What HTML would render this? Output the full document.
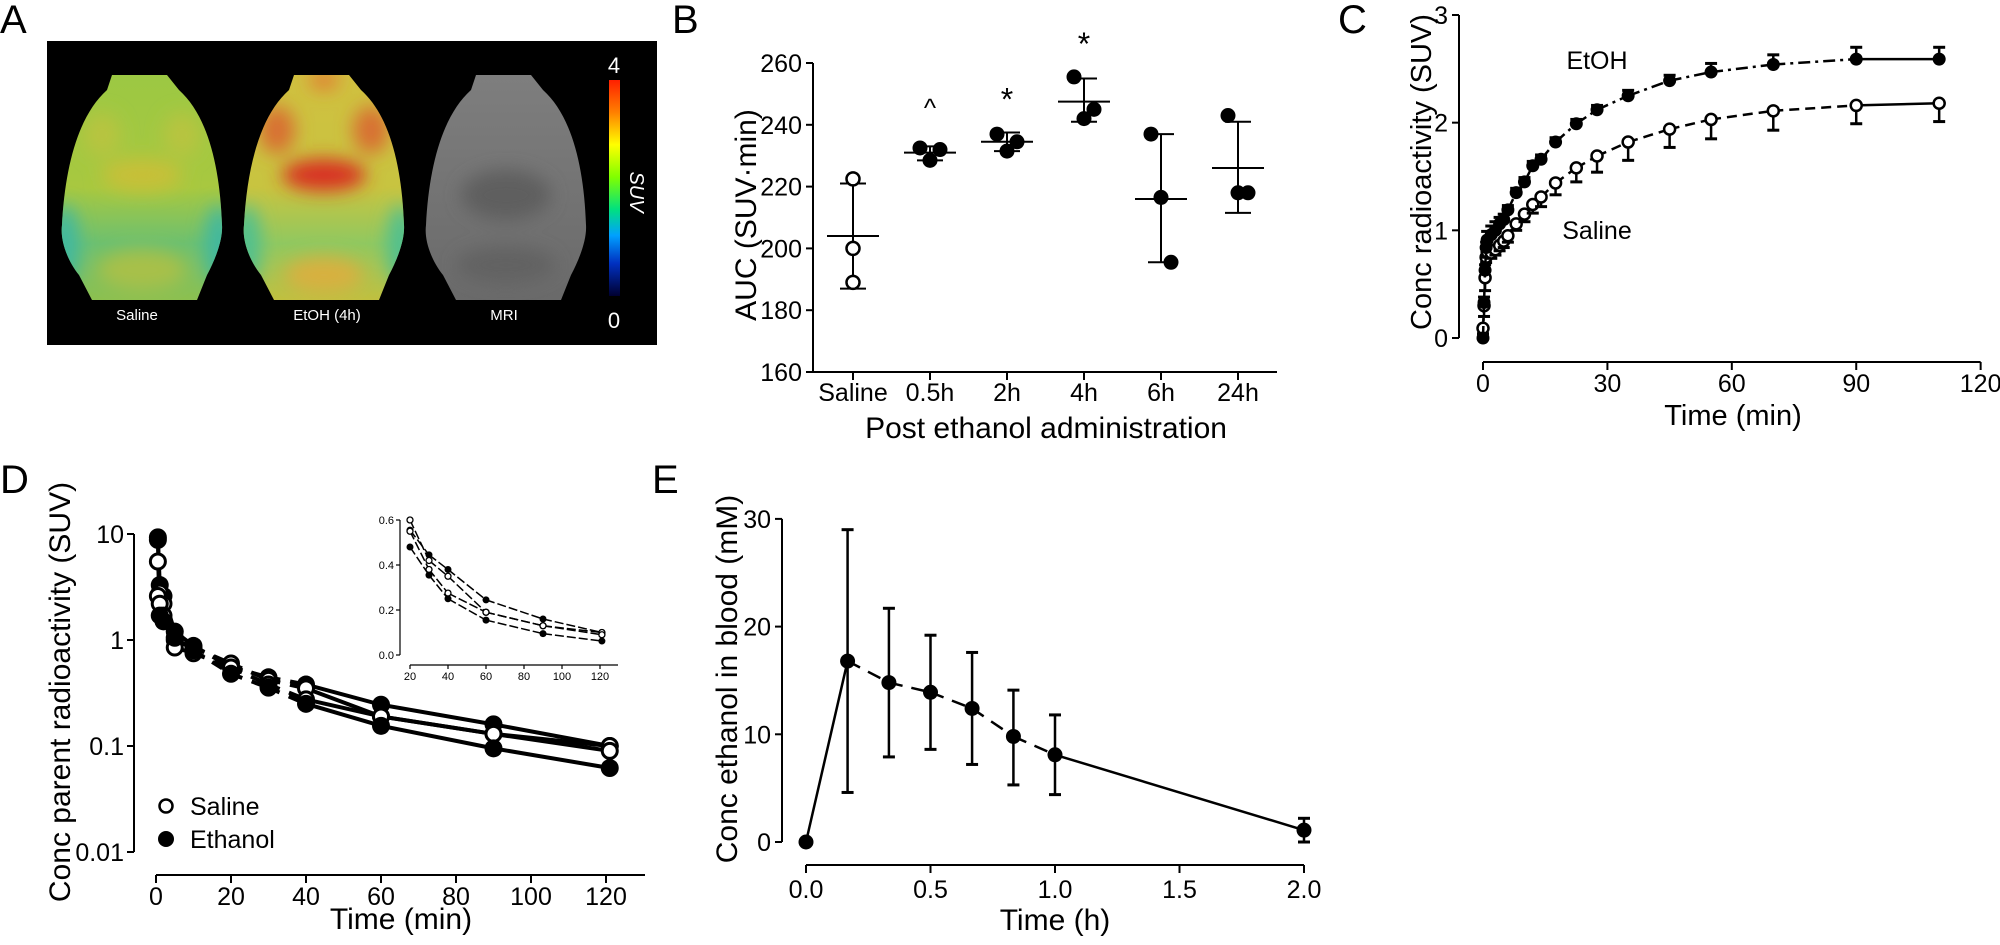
<!DOCTYPE html>
<html><head><meta charset="utf-8"><style>
html,body{margin:0;padding:0;background:#fff;}
svg{display:block;font-family:"Liberation Sans",Arial,sans-serif;}
</style></head><body>
<svg id="fig" width="2000" height="945" viewBox="0 0 2000 945" xmlns="http://www.w3.org/2000/svg">
<defs>
  <linearGradient id="cbar" x1="0" y1="0" x2="0" y2="1">
    <stop offset="0" stop-color="#ff2000"/><stop offset="0.15" stop-color="#ff8000"/>
    <stop offset="0.3" stop-color="#ffff00"/><stop offset="0.45" stop-color="#80ff00"/>
    <stop offset="0.6" stop-color="#00e080"/><stop offset="0.72" stop-color="#00a0ff"/>
    <stop offset="0.85" stop-color="#0030c0"/><stop offset="1" stop-color="#000030"/>
  </linearGradient>
  <linearGradient id="salG" x1="0" y1="0" x2="0" y2="1">
    <stop offset="0" stop-color="#9cc843"/><stop offset="0.5" stop-color="#a8c840"/>
    <stop offset="0.75" stop-color="#6cc070"/><stop offset="1" stop-color="#8cc050"/>
  </linearGradient>
  <linearGradient id="etG" x1="0" y1="0" x2="0" y2="1">
    <stop offset="0" stop-color="#d0c040"/><stop offset="0.5" stop-color="#c8c440"/>
    <stop offset="0.75" stop-color="#90c860"/><stop offset="1" stop-color="#c0c040"/>
  </linearGradient>
  <linearGradient id="mriG" x1="0" y1="0" x2="0" y2="1">
    <stop offset="0" stop-color="#7e7e7e"/><stop offset="1" stop-color="#6a6a6a"/>
  </linearGradient>
  <filter id="blur" x="-50%" y="-50%" width="200%" height="200%"><feGaussianBlur stdDeviation="9"/></filter>
  <path id="brainShape" d="M55 0 H110 L122 15 C150 40 163 90 165 150 C166 165 158 185 150 200 L140 225 H35 L22 200 C10 185 3 165 5 150 C8 90 22 40 50 15 Z"/>
  <clipPath id="bclip"><use href="#brainShape"/></clipPath>
</defs>

<!-- Panel A -->
<text x="0" y="33" font-size="40">A</text>
<g>
  <rect x="47" y="41" width="610" height="304" fill="#000"/>
  <g transform="translate(57,75)">
    <use href="#brainShape" fill="url(#salG)"/>
    <g clip-path="url(#bclip)" filter="url(#blur)">
      <ellipse cx="85" cy="100" rx="40" ry="16" fill="#c8c038"/>
      <ellipse cx="45" cy="60" rx="18" ry="22" fill="#b8c440"/>
      <ellipse cx="125" cy="60" rx="18" ry="22" fill="#b8c440"/>
      <ellipse cx="8" cy="170" rx="14" ry="40" fill="#40b8a0"/>
      <ellipse cx="162" cy="170" rx="14" ry="40" fill="#40b8a0"/>
      <ellipse cx="85" cy="195" rx="45" ry="20" fill="#a8c048"/>
    </g>
  </g>
  <g transform="translate(239,75)">
    <use href="#brainShape" fill="url(#etG)"/>
    <g clip-path="url(#bclip)" filter="url(#blur)">
      <ellipse cx="85" cy="100" rx="42" ry="16" fill="#d83020"/>
      <ellipse cx="38" cy="55" rx="18" ry="24" fill="#d87030"/>
      <ellipse cx="132" cy="55" rx="18" ry="24" fill="#d87030"/>
      <ellipse cx="85" cy="5" rx="15" ry="10" fill="#e08030"/>
      <ellipse cx="8" cy="170" rx="14" ry="40" fill="#50c090"/>
      <ellipse cx="162" cy="170" rx="14" ry="40" fill="#50c090"/>
      <ellipse cx="85" cy="200" rx="40" ry="18" fill="#d8b040"/>
    </g>
  </g>
  <g transform="translate(421,75)">
    <use href="#brainShape" fill="url(#mriG)"/>
    <g clip-path="url(#bclip)" filter="url(#blur)">
      <ellipse cx="85" cy="120" rx="45" ry="25" fill="#5e5e5e"/>
      <ellipse cx="85" cy="190" rx="50" ry="18" fill="#626262"/>
    </g>
  </g>
  <text x="137" y="320" font-size="15" fill="#fff" text-anchor="middle">Saline</text>
  <text x="327" y="320" font-size="15" fill="#fff" text-anchor="middle">EtOH (4h)</text>
  <text x="504" y="320" font-size="15" fill="#fff" text-anchor="middle">MRI</text>
  <rect x="609" y="80" width="11" height="216" fill="url(#cbar)"/>
  <text x="614" y="73" font-size="22" fill="#fff" text-anchor="middle">4</text>
  <text x="614" y="328" font-size="22" fill="#fff" text-anchor="middle">0</text>
  <text x="0" y="0" font-size="20" font-style="italic" fill="#fff" text-anchor="middle" transform="translate(630,192) rotate(90)">SUV</text>
</g>

<text x="672" y="33" font-size="40">B</text>
<text x="1338" y="33" font-size="40">C</text>
<text x="0" y="493" font-size="40">D</text>
<text x="652" y="493" font-size="40">E</text>

<g id="gB"></g>
<g id="gC"></g>
<g id="gD"></g>
<g id="gE"></g>
</svg>

<script>
// ---------- Panel B data ----------
const bCategories = ["Saline","0.5h","2h","4h","6h","24h"];
const bPoints = [[222.5,200,189],[232.5,228.5,232],[237,231.5,234.5],[255.5,242,245],[237,216.5,195.5],[243,218,218]];
const bMeans = [204,231,234.5,247.5,216,226];
const bErrHi = [221,233,237.5,255,237,241];
const bErrLo = [187,228.5,231.5,241,195.5,211.5];
const bMarks = ["","^","*","*","",""];
const bTicks = [160,180,200,220,240,260];

// ---------- Panel C data ----------
const cTimes = [0,0.25,0.5,0.75,1,2,3,4,5,6,8,10,12,14,17.5,22.5,27.5,35,45,55,70,90,110];
const cEtoh = [0,0.33,0.63,0.84,0.91,0.96,1.0,1.06,1.10,1.19,1.35,1.45,1.60,1.66,1.82,1.99,2.12,2.25,2.39,2.47,2.54,2.59,2.59];
const cEtohSD = [0,0.05,0.05,0.05,0.08,0.08,0.08,0.06,0.05,0.04,0.04,0.04,0.04,0.04,0.04,0.04,0.04,0.05,0.05,0.08,0.09,0.11,0.11];
const cSaline = [0.09,0.3,0.56,0.75,0.80,0.79,0.82,0.86,0.90,0.95,1.06,1.15,1.24,1.31,1.44,1.58,1.69,1.82,1.94,2.03,2.11,2.16,2.18];
const cSalineSD = [0.05,0.1,0.12,0.05,0.05,0.05,0.05,0.05,0.06,0.06,0.06,0.07,0.08,0.09,0.11,0.13,0.15,0.17,0.17,0.18,0.18,0.17,0.17];
const cXTicks = [0,30,60,90,120];
const cYTicks = [0,1,2,3];

// ---------- Panel D data ----------
const dTimes = [0.5,1,2,5,10,20,30,40,60,90,121];
const dEthHi = [9.3,3.3,2.6,1.2,0.88,0.555,0.445,0.38,0.245,0.16,0.10];
const dSalHi = [5.5,2.8,2.2,1.0,0.85,0.60,0.42,0.35,0.19,0.13,0.10];
const dSalLo = [2.6,2.2,1.7,0.85,0.75,0.55,0.38,0.275,0.19,0.13,0.09];
const dEthLo = [8.8,1.7,1.5,1.05,0.80,0.48,0.355,0.25,0.155,0.095,0.062];
const dYTicks = [10,1,0.1,0.01];
const dYLabels = ["10","1","0.1","0.01"];
const dXTicks = [0,20,40,60,80,100,120];
const insetTimes = [20,30,40,60,90,121];
const insetXTicks = [20,40,60,80,100,120];
const insetYTicks = [0,0.2,0.4,0.6];
const insetYLabels = ["0.0","0.2","0.4","0.6"];

// ---------- Panel E data ----------
const eTimes = [0,0.167,0.333,0.5,0.667,0.833,1,2];
const eMeans = [0,16.8,14.8,13.9,12.4,9.8,8.1,1.1];
const eHi = [0,29,21.7,19.2,17.6,14.1,11.8,2.2];
const eLo = [0,4.6,7.9,8.6,7.2,5.3,4.4,0];
const eXTicks = [0,0.5,1,1.5,2];
const eXLabels = ["0.0","0.5","1.0","1.5","2.0"];
const eYTicks = [0,10,20,30];

const NS = "http://www.w3.org/2000/svg";
function mk(parent, tag, attrs, text){
  const el = document.createElementNS(NS, tag);
  for (const k in attrs) el.setAttribute(k, attrs[k]);
  if (text !== undefined) el.textContent = text;
  parent.appendChild(el);
  return el;
}
function line(p,x1,y1,x2,y2,w,dash){
  const l = mk(p,"line",{x1:x1,y1:y1,x2:x2,y2:y2,stroke:"#000","stroke-width":w||2});
  if (dash) l.setAttribute("stroke-dasharray",dash);
  return l;
}

// ================= B =================
(function(){
  const g = document.getElementById("gB");
  const xB = i => 853 + 77*i;
  const yB = v => 372 - (v-160)*3.09;
  const ax = line(g,813,yB(260),813,372,2);
  
  
  const axx = line(g,813,372,1277,372,2);
  
  
  bTicks.forEach(t=>{
    line(g,806,yB(t),813,yB(t),2);
    const tx = mk(g,"text",{x:802,y:yB(t)+9,"font-size":25,"text-anchor":"end"},String(t));
    
    
  });
  bCategories.forEach((c,i)=>{
    line(g,xB(i),372,xB(i),380,2);
    const tx = mk(g,"text",{x:xB(i),y:401,"font-size":25,"text-anchor":"middle"},c);
    
    
    line(g,xB(i),yB(bErrHi[i]),xB(i),yB(bErrLo[i]),2);
    line(g,xB(i)-13,yB(bErrHi[i]),xB(i)+13,yB(bErrHi[i]),2);
    line(g,xB(i)-13,yB(bErrLo[i]),xB(i)+13,yB(bErrLo[i]),2);
    const m = line(g,xB(i)-26,yB(bMeans[i]),xB(i)+26,yB(bMeans[i]),2);
    
    
    const offs = i===0 ? [0,0,0] : [-10,0,10];
    bPoints[i].forEach((v,j)=>{
      const open = i===0;
      const c2 = mk(g,"circle",{cx:xB(i)+offs[j],cy:yB(v),r:open?6.5:7.5,fill:open?"#fff":"#000",stroke:"#000","stroke-width":open?2.5:0});
      
      
    });
    if (bMarks[i]) {
      const top = Math.max(...bPoints[i], bErrHi[i]);
      const s = mk(g,"text",{x:xB(i),y:yB(top)-(bMarks[i]==="^"?30:22),"font-size":bMarks[i]==="^"?26:32,"text-anchor":"middle"},bMarks[i]);
      
      
    }
  });
  const yt = mk(g,"text",{x:0,y:0,"font-size":30,"text-anchor":"middle",transform:"translate(756,215) rotate(-90)"},"AUC (SUV·min)");
  
  
  const xt = mk(g,"text",{x:1046,y:438,"font-size":30,"text-anchor":"middle"},"Post ethanol administration");
  
  
})();

// ================= C =================
(function(){
  const g = document.getElementById("gC");
  const xC = t => 1483 + t*4.147;
  const yC = v => 338 - v*107.67;
  const ay = line(g,1459,yC(3),1459,yC(0),2);
  
  
  const axx = line(g,1483,362,xC(120),362,2);
  
  
  cYTicks.forEach(t=>{
    line(g,1452,yC(t),1459,yC(t),2);
    const tx = mk(g,"text",{x:1448,y:yC(t)+9,"font-size":25,"text-anchor":"end"},String(t));
    
    
  });
  cXTicks.forEach(t=>{
    line(g,xC(t),362,xC(t),370,2);
    const tx = mk(g,"text",{x:xC(t),y:392,"font-size":25,"text-anchor":"middle"},String(t));
    
    
  });
  function series(vals, sds, open, name){
    for (let i=1;i<cTimes.length;i++){
      const last = i===cTimes.length-1;
      const l = line(g,xC(cTimes[i-1]),yC(vals[i-1]),xC(cTimes[i]),yC(vals[i]),2.5,last?null:(open?"10,6":"12,5,3,5"));
      
      
    }
    cTimes.forEach((t,i)=>{
      const dir = open ? 1 : -1;
      const ye = yC(vals[i] + dir*-1*sds[i]*-1*(open?-1:1));
      const yEnd = open ? yC(vals[i]-sds[i]) : yC(vals[i]+sds[i]);
      line(g,xC(t),yC(vals[i]),xC(t),yEnd,2.5);
      line(g,xC(t)-6,yEnd,xC(t)+6,yEnd,3);
      const c = mk(g,"circle",{cx:xC(t),cy:yC(vals[i]),r:open?5.5:6.5,fill:open?"#fff":"#000",stroke:"#000","stroke-width":open?2.5:0});
      
      
    });
  }
  series(cSaline,cSalineSD,true,'c-saline');
  series(cEtoh,cEtohSD,false,'c-etoh');
  const l1 = mk(g,"text",{x:1597,y:69,"font-size":25,"text-anchor":"middle"},"EtOH");
  
  
  const l2 = mk(g,"text",{x:1597,y:239,"font-size":25,"text-anchor":"middle"},"Saline");
  
  
  const yt = mk(g,"text",{x:0,y:0,"font-size":29,"text-anchor":"middle",transform:"translate(1431,172) rotate(-90)"},"Conc radioactivity (SUV)");
  
  
  const xt = mk(g,"text",{x:1733,y:425,"font-size":29,"text-anchor":"middle"},"Time (min)");
  
  
})();

// ================= D =================
(function(){
  const g = document.getElementById("gD");
  const xD = t => 156 + t*3.75;
  const yD = v => 640 - Math.log10(v)*106;
  const ay = line(g,134,yD(10),134,yD(0.01),2);
  
  
  const axx = line(g,156,875,645,875,2);
  
  
  dYTicks.forEach((t,i)=>{
    line(g,127,yD(t),134,yD(t),2);
    const tx = mk(g,"text",{x:124,y:yD(t)+9,"font-size":25,"text-anchor":"end"},dYLabels[i]);
    
    
  });
  dXTicks.forEach(t=>{
    line(g,xD(t),875,xD(t),883,2);
    const tx = mk(g,"text",{x:xD(t),y:905,"font-size":25,"text-anchor":"middle"},String(t));
    
    
  });
  const all = [[dEthHi,false],[dSalHi,true],[dSalLo,true],[dEthLo,false]];
  all.forEach(([vals,open])=>{
    for (let i=1;i<dTimes.length;i++){
      const dashed = dTimes[i]>10 && dTimes[i]<=40;
      const l = line(g,xD(dTimes[i-1]),yD(vals[i-1]),xD(dTimes[i]),yD(vals[i]),4,dashed?"12,10":null);
      
      
    }
  });
  all.forEach(([vals,open])=>{
    dTimes.forEach((t,i)=>{
      const c = mk(g,"circle",{cx:xD(t),cy:yD(vals[i]),r:open?7.5:9,fill:open?"#fff":"#000",stroke:"#000","stroke-width":open?3:0});
      
      
    });
  });
  // legend
  const lc1 = mk(g,"circle",{cx:166,cy:806,r:6.5,fill:"#fff",stroke:"#000","stroke-width":2.5});
  
  
  const lt1 = mk(g,"text",{x:190,y:815,"font-size":25},"Saline");
  
  
  const lc2 = mk(g,"circle",{cx:166,cy:839,r:8,fill:"#000"});
  
  
  const lt2 = mk(g,"text",{x:190,y:848,"font-size":25},"Ethanol");
  
  
  const yt = mk(g,"text",{x:0,y:0,"font-size":30,"text-anchor":"middle",transform:"translate(70,692) rotate(-90)"},"Conc parent radioactivity (SUV)");
  
  
  const xt = mk(g,"text",{x:401,y:929,"font-size":30,"text-anchor":"middle"},"Time (min)");
  
  

  // inset
  const ig = mk(g,"g",{});
  
  
  const xI = t => 410 + (t-20)*1.9;
  const yI = v => 655 - v*225;
  line(ig,400,yI(0.6),400,yI(0),1.2);
  line(ig,410,665,618,665,1.2);
  insetYTicks.forEach((t,i)=>{
    line(ig,396,yI(t),400,yI(t),1.2);
    const tx = mk(ig,"text",{x:394,y:yI(t)+4,"font-size":11,"text-anchor":"end"},insetYLabels[i]);
    
    
  });
  insetXTicks.forEach(t=>{
    line(ig,xI(t),665,xI(t),669,1.2);
    const tx = mk(ig,"text",{x:xI(t),y:680,"font-size":11,"text-anchor":"middle"},String(t));
    
    
  });
  all.forEach(([vals,open])=>{
    const off = dTimes.length - insetTimes.length;
    for (let i=1;i<insetTimes.length;i++){
      line(ig,xI(insetTimes[i-1]),yI(vals[i-1+off]),xI(insetTimes[i]),yI(vals[i+off]),1.5,"9,3");
    }
    insetTimes.forEach((t,i)=>{
      const c = mk(ig,"circle",{cx:xI(t),cy:yI(vals[i+off]),r:open?3:3.5,fill:open?"#fff":"#000",stroke:"#000","stroke-width":open?1.3:0});
      
      
    });
  });
})();

// ================= E =================
(function(){
  const g = document.getElementById("gE");
  const xE = t => 806 + t*249;
  const yE = v => 842 - v*10.77;
  const ay = line(g,782,yE(30),782,yE(0),2);
  
  
  const axx = line(g,806,865,xE(2),865,2);
  
  
  eYTicks.forEach(t=>{
    line(g,775,yE(t),782,yE(t),2);
    const tx = mk(g,"text",{x:771,y:yE(t)+9,"font-size":25,"text-anchor":"end"},String(t));
    
    
  });
  eXTicks.forEach((t,i)=>{
    line(g,xE(t),865,xE(t),873,2);
    const tx = mk(g,"text",{x:xE(t),y:898,"font-size":25,"text-anchor":"middle"},eXLabels[i]);
    
    
  });
  for (let i=1;i<eTimes.length;i++){
    const dashed = i>=2 && i<=6;
    const l = line(g,xE(eTimes[i-1]),yE(eMeans[i-1]),xE(eTimes[i]),yE(eMeans[i]),2.5,dashed?"14,9":null);
    
    
  }
  eTimes.forEach((t,i)=>{
    if (eHi[i]>eLo[i]){
      line(g,xE(t),yE(eHi[i]),xE(t),yE(eLo[i]),2.5);
      line(g,xE(t)-6,yE(eHi[i]),xE(t)+6,yE(eHi[i]),3);
      line(g,xE(t)-6,yE(eLo[i]),xE(t)+6,yE(eLo[i]),3);
    }
    const c = mk(g,"circle",{cx:xE(t),cy:yE(eMeans[i]),r:7.5,fill:"#000"});
    
    
  });
  const yt = mk(g,"text",{x:0,y:0,"font-size":30,"text-anchor":"middle",transform:"translate(737,679) rotate(-90)"},"Conc ethanol in blood (mM)");
  
  
  const xt = mk(g,"text",{x:1055,y:930,"font-size":30,"text-anchor":"middle"},"Time (h)");
  
  
})();
</script>
</body></html>
